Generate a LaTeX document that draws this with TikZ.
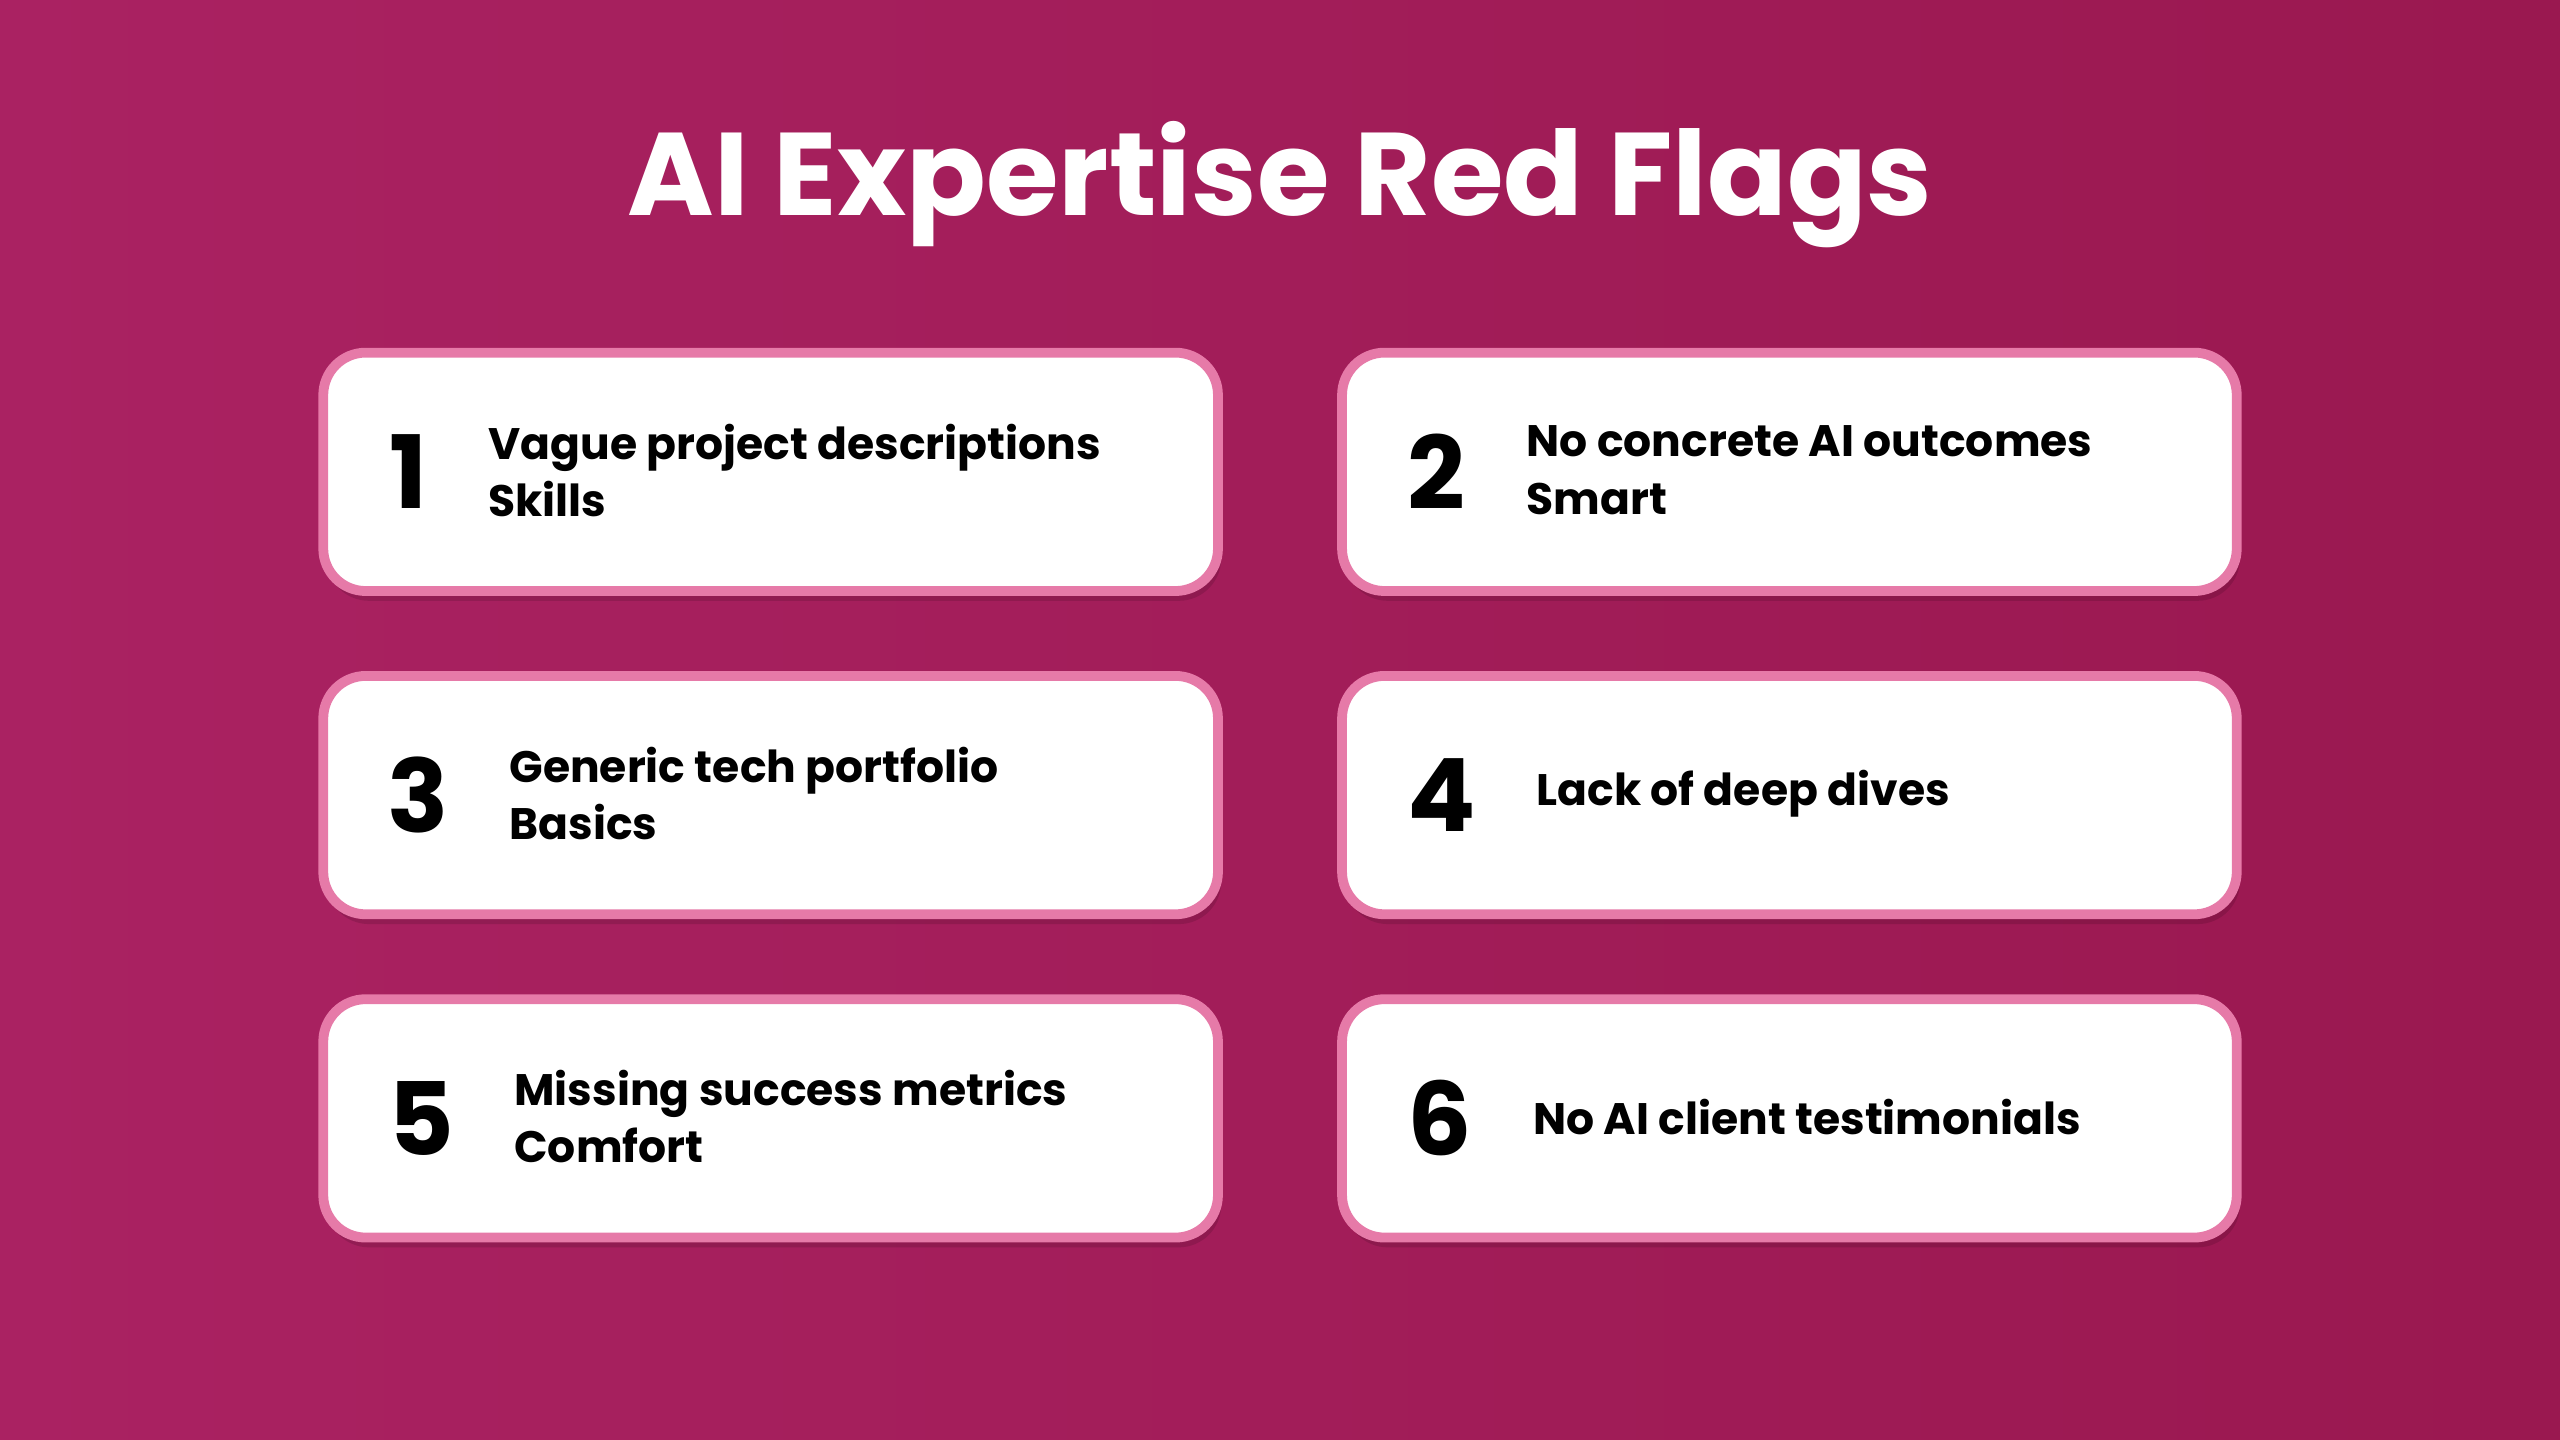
\documentclass[tikz,border=0pt]{standalone}
\usepackage{fontspec}
\setmainfont{Poppins}
\definecolor{bgA}{HTML}{AA2262}
\definecolor{bgB}{HTML}{9A1850}
\definecolor{pinkb}{HTML}{E67AA8}
\begin{document}
\begin{tikzpicture}[x=0.5pt,y=-0.5pt,
  card/.style={draw=pinkb,line width=3pt,fill=white,rounded corners=13pt},
  num/.style={font=\fontsize{31}{31}\selectfont\bfseries,text=black},
  lbl/.style={font=\fontsize{13.5}{17.5}\selectfont\bfseries,text=black,anchor=west,align=left}]
\shade[left color=bgA,right color=bgB,use as bounding box] (0,0) rectangle (1568,882);
\node (title) at (784,113) {\fontsize{36}{36}\selectfont\bfseries\color{white}AI Expertise Red Flags};
\foreach \x/\y/\n/\nx/\tx/\t in {
 198/216/1/250/292/{Vague project descriptions\\Skills},
 822/216/2/880/928/{No concrete AI outcomes\\Smart},
 198/414/3/256/305/{Generic tech portfolio\\Basics},
 822/414/4/883/934/{Lack of deep dives},
 198/612/5/258/308/{Missing success metrics\\Comfort},
 822/612/6/882/932/{No AI client testimonials}}{
 \fill[black,opacity=0.12,rounded corners=13pt] (\x+2,\y+6) rectangle ++(548,146);
 \draw[card] (\x,\y) rectangle ++(548,146);
 \node[num] (n\n) at (\nx,\y+73) {\n};
 \node[lbl] (t\n) at (\tx,\y+72) {\t};
}
\end{tikzpicture}
\end{document}
